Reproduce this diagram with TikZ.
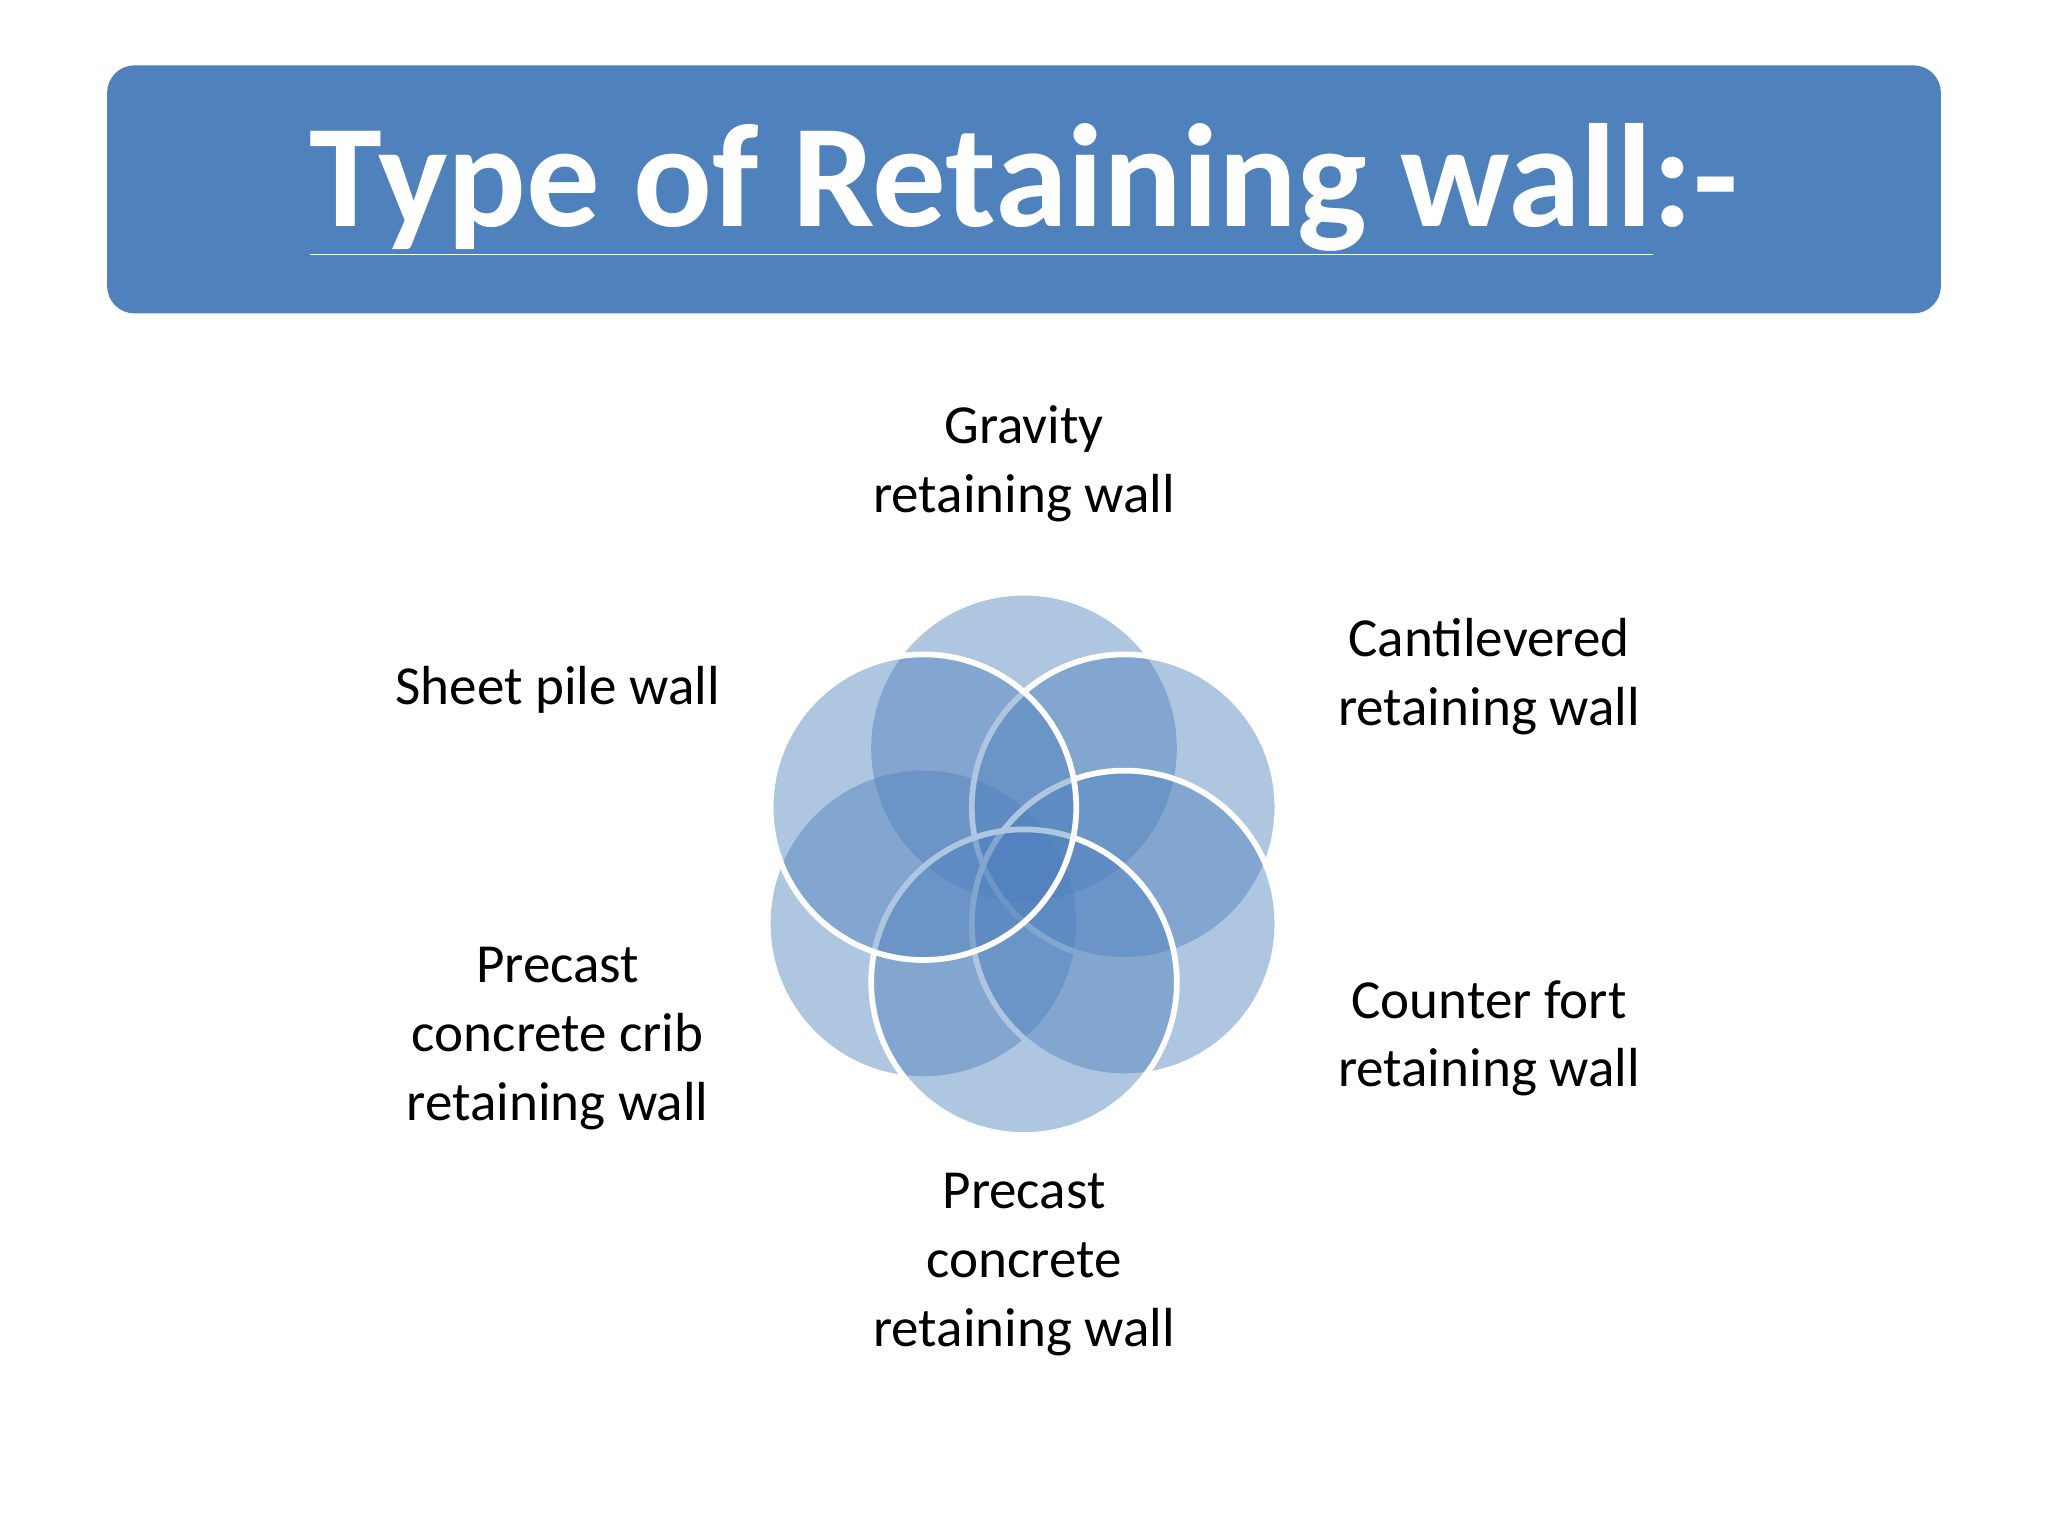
\documentclass[tikz,border=0pt]{standalone}
\usepackage{fontspec}
\setmainfont{Carlito}
\definecolor{bar}{HTML}{4F81BD}
\definecolor{txt}{HTML}{000000}
\begin{document}
\begin{tikzpicture}[x=0.02cm,y=-0.02cm,
  ring/.style={fill=bar,fill opacity=0.45,draw=white,draw opacity=1,line width=2.5pt},
  ringnb/.style={fill=bar,fill opacity=0.45,draw=none},
  lab/.style={font=\fontsize{24}{30}\selectfont,align=center,text=txt}]
\useasboundingbox (0,0) rectangle (1568,1176);
\fill[white] (0,0) rectangle (1568,1176);
\node[fill=bar,rounded corners=12pt,minimum width=1404*0.02cm,minimum height=190*0.02cm,inner sep=0] (bar) at (784,145) {};
\node[text=white,font=\fontsize{64}{70}\selectfont\bfseries] (title) at (784,145) {\underline{Type of Retaining wall}:-};
\path[ringnb] (784,573) circle (117);
\path[ringnb] (707,707) circle (117);
\path[ring] (861,618) circle (117);
\path[ring] (861,707) circle (117);
\path[ring] (784,752) circle (117);
\path[ring] (707,618) circle (117);
\node[lab] (g) at (784,355) {Gravity\\retaining wall};
\node[lab] (c) at (1140,518) {Cantilevered\\retaining wall};
\node[lab] (cf) at (1140,795) {Counter fort\\retaining wall};
\node[lab] (pc) at (784,968) {Precast\\concrete\\retaining wall};
\node[lab] (pcc) at (427,795) {Precast\\concrete crib\\retaining wall};
\node[lab] (sp) at (427,528) {Sheet pile wall};
\end{tikzpicture}
\end{document}
